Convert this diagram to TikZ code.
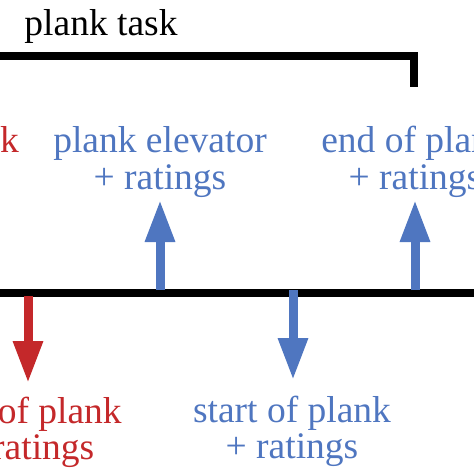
\documentclass[tikz,border=0pt]{standalone}
\usepackage{fontspec}
\setmainfont{Liberation Serif}
\usetikzlibrary{arrows.meta}
\definecolor{myblue}{HTML}{4F76C0}
\definecolor{myred}{HTML}{C4282A}
\begin{document}
\begin{tikzpicture}[x=1pt,y=-1pt,
  lbl/.style={anchor=base,inner sep=0pt,font=\fontsize{37.5}{37.5}\selectfont},
  bluelbl/.style={lbl,text=myblue},
  redlbl/.style={lbl,text=myred},
  bar/.style={line width=8pt,black},
  bigarrow/.style={line width=9pt,-{Triangle[width=28pt,length=42pt]}}]
\useasboundingbox (0,0) rectangle (474,474);
\begin{scope}
\clip (0,0) rectangle (474,474);
% title and bracket
\node[lbl] (title) at (101,35) {plank task};
\coordinate (bl) at (-10,56);
\coordinate (br) at (414,56);
\coordinate (bd) at (414,87);
\draw[bar,line join=miter] (bl) -- (br) -- (bd);
% timeline
\coordinate (tl) at (-10,293);
\coordinate (tr) at (484,293);
\draw[bar] (tl) -- (tr);
% upper labels
\node[redlbl] (s1) at (-80,152) {start of plank};
\node[bluelbl] (pe1) at (160,152) {plank elevator};
\node[bluelbl] (pe2) at (160,189) {+ ratings};
\node[bluelbl] (ep1) at (415,152) {end of plank};
\node[bluelbl] (ep2) at (415,189) {+ ratings};
% lower labels
\node[redlbl] (re1) at (28,423) {end of plank};
\node[redlbl] (re2) at (28,459) {+ ratings};
\node[bluelbl] (sp1) at (292,422) {start of plank};
\node[bluelbl] (sp2) at (292,458) {+ ratings};
% arrows
\coordinate (a1s) at (160,290);
\coordinate (a1e) at (160,200);
\coordinate (a2s) at (415,290);
\coordinate (a2e) at (415,200);
\coordinate (a3s) at (28,296);
\coordinate (a3e) at (28,383);
\coordinate (a4s) at (293,290);
\coordinate (a4e) at (293,380);
\draw[bigarrow,myblue] (a1s) -- (a1e);
\draw[bigarrow,myblue] (a2s) -- (a2e);
\draw[bigarrow,myred] (a3s) -- (a3e);
\draw[bigarrow,myblue] (a4s) -- (a4e);
\end{scope}
\end{tikzpicture}
\end{document}
